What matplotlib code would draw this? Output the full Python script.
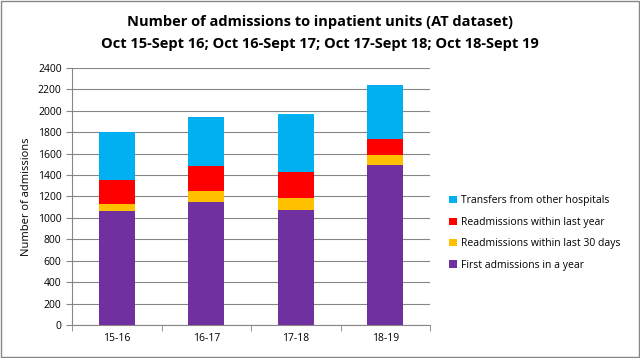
import matplotlib
matplotlib.use("Agg")
import matplotlib.pyplot as plt
import numpy as np

# data
years = ["15-16", "16-17", "17-18", "18-19"]
first_adm = [1067, 1144, 1076, 1494]
readm_30 = [65, 106, 109, 91]
readm_year = [223, 233, 247, 154]
transfers = [450, 461, 540, 502]

labels = ["First admissions in a year", "Readmissions within last 30 days",
          "Readmissions within last year", "Transfers from other hospitals"]
colors = ["#7030A0", "#FFC000", "#FF0000", "#00B0F0"]

plt.rcParams['font.family'] = ['Open Sans', 'DejaVu Sans']

fig = plt.figure(figsize=(6.4, 3.58), dpi=100)
ax = fig.add_axes([72/640, 1-325/358, 358/640, 257/358])

x = np.arange(len(years))
bottom = np.zeros(len(years))
handles = []
for vals, col, lab in zip([first_adm, readm_30, readm_year, transfers], colors, labels):
    b = ax.bar(x, vals, 0.4, bottom=bottom, color=col, label=lab, zorder=3)
    handles.append(b)
    bottom += np.array(vals)

ax.set_xlim(-0.5, 3.5)
ax.set_ylim(0, 2400)
ax.set_yticks(np.arange(0, 2401, 200))
ax.set_xticks(x)
ax.set_xticklabels(years)
ax.set_xticks(np.arange(-0.5, 3.6, 1), minor=True)
ax.tick_params(axis='x', which='major', length=0, labelsize=7.5, pad=6)
ax.tick_params(axis='x', which='minor', length=4, color='#868686')
ax.tick_params(axis='y', length=4, color='#868686', labelsize=7.5)
ax.grid(axis='y', color='#868686', linewidth=0.8, zorder=0)
for s in ['top', 'right']:
    ax.spines[s].set_visible(False)
for s in ['left', 'bottom']:
    ax.spines[s].set_color('#868686')
ax.set_ylabel("Number of admissions", fontsize=8)

fig.text(0.5, 1-22/358, "Number of admissions to inpatient units (AT dataset)",
         ha='center', va='center', fontsize=10.5, fontweight='bold')
fig.text(0.5, 1-44/358, "Oct 15-Sept 16; Oct 16-Sept 17; Oct 17-Sept 18; Oct 18-Sept 19",
         ha='center', va='center', fontsize=10.5, fontweight='bold')

ax.legend(handles[::-1], labels[::-1], loc='center left', bbox_to_anchor=(440/640, 1-233/358),
          bbox_transform=fig.transFigure, frameon=False, fontsize=7.5,
          handlelength=0.7, handleheight=0.7, handletextpad=0.4, labelspacing=1.0)

fig.patches.append(plt.Rectangle((0.001, 0.002), 0.997, 0.996, transform=fig.transFigure,
                                 fill=False, edgecolor='#868686', linewidth=1))

fig.savefig("out.png", dpi=100)
